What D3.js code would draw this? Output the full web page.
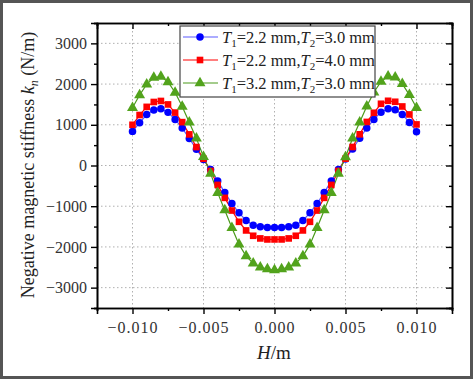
<!DOCTYPE html>
<html><head><meta charset="utf-8">
<script src="https://cdn.jsdelivr.net/npm/d3@7"></script>
<style>html,body{margin:0;padding:0;background:#fff;}svg{display:block;}</style>
</head><body>
<svg id="c" width="474" height="380"></svg>
<script>
const H = [-0.0100,-0.0095,-0.0090,-0.0085,-0.0080,-0.0075,-0.0070,-0.0065,-0.0060,-0.0055,
 -0.0050,-0.0045,-0.0040,-0.0035,-0.0030,-0.0025,-0.0020,-0.0015,-0.0010,-0.0005,
 0.0000,0.0005,0.0010,0.0015,0.0020,0.0025,0.0030,0.0035,0.0040,0.0045,
 0.0050,0.0055,0.0060,0.0065,0.0070,0.0075,0.0080,0.0085,0.0090,0.0095,0.0100];
const kBlue = [838,1050,1250,1365,1393,1305,1131,918,666,400,
 150,-101,-379,-665,-934,-1163,-1350,-1465,-1506,-1522,
 -1522,-1522,-1506,-1465,-1350,-1163,-934,-665,-379,-101,
 160,405,670,918,1131,1310,1393,1369,1254,1058,830];
const kRed = [1000,1240,1440,1560,1585,1500,1300,1065,764,453,
 165,-134,-477,-795,-1106,-1383,-1595,-1726,-1791,-1816,
 -1816,-1816,-1791,-1726,-1595,-1383,-1106,-795,-477,-134,
 168,455,766,1070,1295,1516,1589,1565,1450,1254,1009];
const kGreen = [1418,1730,1995,2160,2185,2050,1793,1450,1058,666,
 215,-199,-673,-1097,-1530,-1938,-2224,-2404,-2501,-2542,
 -2567,-2542,-2501,-2404,-2224,-1938,-1530,-1097,-673,-199,
 209,670,1060,1455,1800,2062,2192,2168,2005,1736,1418];
const seriesNames = ["T1=2.2 mm,T2=3.0 mm","T1=2.2 mm,T2=4.0 mm","T1=3.2 mm,T2=3.0 mm"];
const legendParts = [["2.2","3.0"],["2.2","4.0"],["3.2","3.0"]];
const xTicks = [-0.010,-0.005,0.000,0.005,0.010];
const xMinor = [-0.0125,-0.0075,-0.0025,0.0025,0.0075,0.0125];
const yTicks = [-3000,-2000,-1000,0,1000,2000,3000];
const yMinor = [-3500,-2500,-1500,-500,500,1500,2500,3500];

const svg = d3.select("#c");
const L=97,R=452,T=23,B=308;
const x = d3.scaleLinear().domain([-0.0125,0.0125]).range([L,R]);
const y = d3.scaleLinear().domain([-3500,3500]).range([B,T]);
const serif = "'Liberation Serif','Times New Roman',serif";

// outer frame
svg.append("rect").attr("x",1.5).attr("y",1.5).attr("width",470).attr("height",376)
  .attr("fill","#fff").attr("stroke","#555").attr("stroke-width",3);

// grid
const g = svg.append("g");
g.selectAll(".gx").data(xTicks).join("line").attr("x1",d=>x(d)).attr("x2",d=>x(d))
  .attr("y1",T).attr("y2",B).attr("stroke","#b0b0b0").attr("stroke-width",1).attr("stroke-dasharray","1.5,2.5");
g.selectAll(".gy").data(yTicks).join("line").attr("y1",d=>y(d)).attr("y2",d=>y(d))
  .attr("x1",L).attr("x2",R).attr("stroke","#b0b0b0").attr("stroke-width",1).attr("stroke-dasharray","1.5,2.5");

const fmtX = d => (d<0?"\u2212":"") + Math.abs(d).toFixed(3);
const fmtY = d => (d<0?"\u2212":"") + Math.abs(d);

// axes
const axB = d3.axisBottom(x).tickValues(xTicks).tickFormat(fmtX).tickSize(6).tickPadding(8);
const axBm = d3.axisBottom(x).tickValues(xMinor).tickFormat("").tickSize(3);
const axL = d3.axisLeft(y).tickValues(yTicks).tickFormat(fmtY).tickSize(6).tickPadding(4);
const axLm = d3.axisLeft(y).tickValues(yMinor).tickFormat("").tickSize(3);
const axT = d3.axisBottom(x).tickValues(xTicks).tickFormat("").tickSize(6);
const axTm = d3.axisBottom(x).tickValues(xMinor).tickFormat("").tickSize(3);
const axR = d3.axisLeft(y).tickValues(yTicks).tickFormat("").tickSize(6);
const axRm = d3.axisLeft(y).tickValues(yMinor).tickFormat("").tickSize(3);
function styleAx(sel){
  sel.attr("font-family",serif).attr("font-size",16);
  sel.selectAll(".domain").attr("stroke","#000").attr("stroke-width",1.6);
  sel.selectAll(".tick line").attr("stroke","#000").attr("stroke-width",1.4);
  sel.selectAll("text").style("font-family",serif).style("font-size","16px").attr("fill","#333");
}
[[axB,`translate(0,${B})`],[axBm,`translate(0,${B})`],[axL,`translate(${L},0)`],[axLm,`translate(${L},0)`],
 [axT,`translate(0,${T})`],[axTm,`translate(0,${T})`],[axR,`translate(${R},0)`],[axRm,`translate(${R},0)`]]
 .forEach(([a,t],k)=>{ const s=svg.append("g").attr("transform",t).call(a); styleAx(s); if(k===0) s.selectAll("text").attr("letter-spacing",1); });

// series
const series = [
  {vals:kBlue, line:"#5a5aff", fill:"#0000ff", shape:d3.symbolCircle, size:44},
  {vals:kRed, line:"#ff0000", fill:"#ff0000", shape:d3.symbolSquare, size:44},
  {vals:kGreen, line:"#4a9a1a", fill:"#52a31c", shape:d3.symbolTriangle, size:52}
];
const line = d3.line().x((d,i)=>x(H[i])).y(d=>y(d));
series.forEach(s=>{
  svg.append("path").datum(s.vals).attr("d",line).attr("fill","none").attr("stroke",s.line).attr("stroke-width",1.2);
});
series.forEach(s=>{
  svg.append("g").selectAll("path").data(s.vals).join("path")
    .attr("transform",(d,i)=>`translate(${x(H[i])},${y(d)})`)
    .attr("d",d3.symbol().type(s.shape).size(s.size)).attr("fill",s.fill);
});

// legend
const lg = svg.append("g");
lg.append("rect").attr("x",180).attr("y",26).attr("width",195).attr("height",71)
  .attr("fill","#fff").attr("stroke","#444").attr("stroke-width",1.2);
const rowsY=[37,60,83];
series.forEach((s,i)=>{
  const yy=rowsY[i];
  lg.append("line").attr("x1",183).attr("x2",218).attr("y1",yy).attr("y2",yy).attr("stroke",s.line).attr("stroke-width",1.2);
  lg.append("path").attr("transform",`translate(200,${yy})`).attr("d",d3.symbol().type(s.shape).size(s.size)).attr("fill",s.fill);
  const t = lg.append("text").attr("x",222).attr("y",yy+6).attr("font-family",serif).attr("font-size",16.5).attr("fill","#222");
  t.append("tspan").attr("font-style","italic").text("T");
  t.append("tspan").attr("font-size",11).attr("dy",4).text("1");
  t.append("tspan").attr("dy",-4).text("="+legendParts[i][0]+" mm,");
  t.append("tspan").attr("font-style","italic").text("T");
  t.append("tspan").attr("font-size",11).attr("dy",4).text("2");
  t.append("tspan").attr("dy",-4).text("="+legendParts[i][1]+" mm");
});

// axis titles
const xt = svg.append("text").attr("x",274).attr("y",359).attr("text-anchor","middle")
  .attr("font-family",serif).attr("font-size",19).attr("fill","#222");
xt.append("tspan").attr("font-style","italic").text("H");
xt.append("tspan").text("/m");
const yt = svg.append("text").attr("transform","translate(34,165) rotate(-90)").attr("text-anchor","middle")
  .attr("font-family",serif).attr("font-size",18).attr("fill","#222");
yt.append("tspan").text("Negative magnetic stiffness ");
yt.append("tspan").attr("font-style","italic").text("k");
yt.append("tspan").attr("font-style","italic").attr("font-size",12).attr("dy",4).text("n");
yt.append("tspan").attr("dy",-4).text(" (N/m)");
</script>
</body></html>
